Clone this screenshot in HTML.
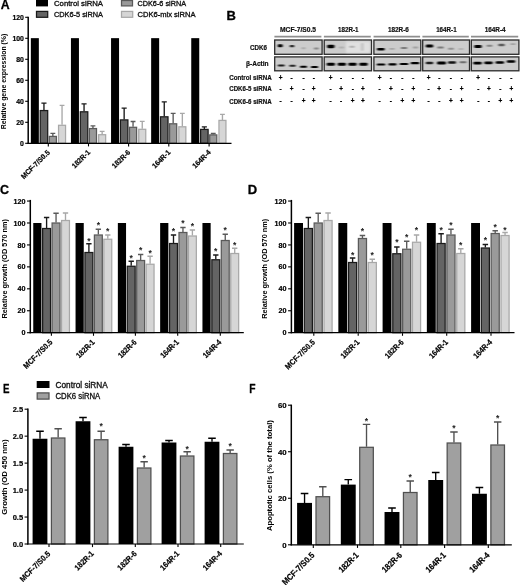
<!DOCTYPE html><html><head><meta charset="utf-8"><title>Figure</title><style>html,body{margin:0;padding:0;background:#fff}svg{display:block}</style></head><body>
<svg width="520" height="585" viewBox="0 0 520 585">
<defs><filter id="b1" x="-30%" y="-80%" width="160%" height="260%"><feGaussianBlur stdDeviation="0.8 0.6"/></filter><filter id="b2" x="-30%" y="-80%" width="160%" height="260%"><feGaussianBlur stdDeviation="1.2 0.8"/></filter></defs>
<rect width="520" height="585" fill="#fff"/>
<text x="0.7" y="9.4" font-size="13" font-weight="bold" textLength="8.9" lengthAdjust="spacingAndGlyphs" font-family="Liberation Sans, sans-serif" stroke="#000" stroke-width="0.3" stroke-linejoin="round">A</text>
<path d="M25.20 17.30H28.20" stroke="#000" stroke-width="1.1"/>
<text x="23.90" y="19.77" font-size="6.9" font-weight="bold" text-anchor="end" font-family="Liberation Sans, sans-serif" stroke="#000" stroke-width="0.2">120</text>
<path d="M25.20 38.30H28.20" stroke="#000" stroke-width="1.1"/>
<text x="23.90" y="40.77" font-size="6.9" font-weight="bold" text-anchor="end" font-family="Liberation Sans, sans-serif" stroke="#000" stroke-width="0.2">100</text>
<path d="M25.20 59.30H28.20" stroke="#000" stroke-width="1.1"/>
<text x="23.90" y="61.77" font-size="6.9" font-weight="bold" text-anchor="end" font-family="Liberation Sans, sans-serif" stroke="#000" stroke-width="0.2">80</text>
<path d="M25.20 80.30H28.20" stroke="#000" stroke-width="1.1"/>
<text x="23.90" y="82.77" font-size="6.9" font-weight="bold" text-anchor="end" font-family="Liberation Sans, sans-serif" stroke="#000" stroke-width="0.2">60</text>
<path d="M25.20 101.30H28.20" stroke="#000" stroke-width="1.1"/>
<text x="23.90" y="103.77" font-size="6.9" font-weight="bold" text-anchor="end" font-family="Liberation Sans, sans-serif" stroke="#000" stroke-width="0.2">40</text>
<path d="M25.20 122.30H28.20" stroke="#000" stroke-width="1.1"/>
<text x="23.90" y="124.77" font-size="6.9" font-weight="bold" text-anchor="end" font-family="Liberation Sans, sans-serif" stroke="#000" stroke-width="0.2">20</text>
<path d="M25.20 143.30H28.20" stroke="#000" stroke-width="1.1"/>
<text x="23.90" y="145.77" font-size="6.9" font-weight="bold" text-anchor="end" font-family="Liberation Sans, sans-serif" stroke="#000" stroke-width="0.2">0</text>
<path d="M48.30 143.30V146.40" stroke="#000" stroke-width="1.1"/>
<text transform="translate(50.40 152.90) rotate(-45)" font-size="7.3" font-weight="bold" text-anchor="end" textLength="37.5" lengthAdjust="spacingAndGlyphs" font-family="Liberation Sans, sans-serif" stroke="#000" stroke-width="0.2">MCF-7/S0.5</text>
<path d="M88.50 143.30V146.40" stroke="#000" stroke-width="1.1"/>
<text transform="translate(90.60 152.90) rotate(-45)" font-size="7.3" font-weight="bold" text-anchor="end" textLength="22.5" lengthAdjust="spacingAndGlyphs" font-family="Liberation Sans, sans-serif" stroke="#000" stroke-width="0.2">182R-1</text>
<path d="M128.60 143.30V146.40" stroke="#000" stroke-width="1.1"/>
<text transform="translate(130.70 152.90) rotate(-45)" font-size="7.3" font-weight="bold" text-anchor="end" textLength="22.5" lengthAdjust="spacingAndGlyphs" font-family="Liberation Sans, sans-serif" stroke="#000" stroke-width="0.2">182R-6</text>
<path d="M168.80 143.30V146.40" stroke="#000" stroke-width="1.1"/>
<text transform="translate(170.90 152.90) rotate(-45)" font-size="7.3" font-weight="bold" text-anchor="end" textLength="22.5" lengthAdjust="spacingAndGlyphs" font-family="Liberation Sans, sans-serif" stroke="#000" stroke-width="0.2">164R-1</text>
<path d="M209.10 143.30V146.40" stroke="#000" stroke-width="1.1"/>
<text transform="translate(211.20 152.90) rotate(-45)" font-size="7.3" font-weight="bold" text-anchor="end" textLength="22.5" lengthAdjust="spacingAndGlyphs" font-family="Liberation Sans, sans-serif" stroke="#000" stroke-width="0.2">164R-4</text>
<text transform="translate(6.40 81.50) rotate(-90)" font-size="6.9" font-weight="bold" text-anchor="middle" textLength="95.5" lengthAdjust="spacingAndGlyphs" font-family="Liberation Sans, sans-serif">Relative gene expression (%)</text>
<rect x="30.85" y="38.15" width="8.00" height="105.15" fill="#000"/>
<rect x="40.20" y="110.55" width="7.50" height="32.75" fill="#646464" stroke="#1a1a1a" stroke-width="1.25"/>
<path d="M43.95 110.05V103.05M41.40 103.05H46.50" stroke="#1a1a1a" stroke-width="1.35" fill="none"/>
<rect x="49.30" y="136.40" width="7.10" height="6.90" fill="#9a9a9a" stroke="#5a5a5a" stroke-width="1.25"/>
<path d="M52.85 135.90V133.30M50.42 133.30H55.28" stroke="#5a5a5a" stroke-width="1.35" fill="none"/>
<rect x="58.55" y="125.30" width="7.00" height="18.00" fill="#d6d6d6" stroke="#a8a8a8" stroke-width="1.25"/>
<path d="M62.05 124.80V105.30M59.65 105.30H64.45" stroke="#a8a8a8" stroke-width="1.35" fill="none"/>
<rect x="70.95" y="38.15" width="8.00" height="105.15" fill="#000"/>
<rect x="80.30" y="111.80" width="7.50" height="31.50" fill="#646464" stroke="#1a1a1a" stroke-width="1.25"/>
<path d="M84.05 111.30V103.80M81.50 103.80H86.60" stroke="#1a1a1a" stroke-width="1.35" fill="none"/>
<rect x="89.40" y="128.55" width="7.10" height="14.75" fill="#9a9a9a" stroke="#5a5a5a" stroke-width="1.25"/>
<path d="M92.95 128.05V125.90M90.52 125.90H95.38" stroke="#5a5a5a" stroke-width="1.35" fill="none"/>
<rect x="98.65" y="134.70" width="7.00" height="8.60" fill="#d6d6d6" stroke="#a8a8a8" stroke-width="1.25"/>
<path d="M102.15 134.20V131.30M99.75 131.30H104.55" stroke="#a8a8a8" stroke-width="1.35" fill="none"/>
<rect x="111.05" y="38.15" width="8.00" height="105.15" fill="#000"/>
<rect x="120.40" y="119.90" width="7.50" height="23.40" fill="#646464" stroke="#1a1a1a" stroke-width="1.25"/>
<path d="M124.15 119.40V108.05M121.60 108.05H126.70" stroke="#1a1a1a" stroke-width="1.35" fill="none"/>
<rect x="129.50" y="127.30" width="7.10" height="16.00" fill="#9a9a9a" stroke="#5a5a5a" stroke-width="1.25"/>
<path d="M133.05 126.80V121.50M130.62 121.50H135.48" stroke="#5a5a5a" stroke-width="1.35" fill="none"/>
<rect x="138.75" y="129.30" width="7.00" height="14.00" fill="#d6d6d6" stroke="#a8a8a8" stroke-width="1.25"/>
<path d="M142.25 128.80V121.30M139.85 121.30H144.65" stroke="#a8a8a8" stroke-width="1.35" fill="none"/>
<rect x="151.15" y="38.15" width="8.00" height="105.15" fill="#000"/>
<rect x="160.50" y="116.80" width="7.50" height="26.50" fill="#646464" stroke="#1a1a1a" stroke-width="1.25"/>
<path d="M164.25 116.30V101.80M161.70 101.80H166.80" stroke="#1a1a1a" stroke-width="1.35" fill="none"/>
<rect x="169.60" y="123.80" width="7.10" height="19.50" fill="#9a9a9a" stroke="#5a5a5a" stroke-width="1.25"/>
<path d="M173.15 123.30V113.30M170.72 113.30H175.58" stroke="#5a5a5a" stroke-width="1.35" fill="none"/>
<rect x="178.85" y="126.80" width="7.00" height="16.50" fill="#d6d6d6" stroke="#a8a8a8" stroke-width="1.25"/>
<path d="M182.35 126.30V113.30M179.95 113.30H184.75" stroke="#a8a8a8" stroke-width="1.35" fill="none"/>
<rect x="191.25" y="38.15" width="8.00" height="105.15" fill="#000"/>
<rect x="200.60" y="129.40" width="7.50" height="13.90" fill="#646464" stroke="#1a1a1a" stroke-width="1.25"/>
<path d="M204.35 128.90V126.80M201.80 126.80H206.90" stroke="#1a1a1a" stroke-width="1.35" fill="none"/>
<rect x="209.70" y="134.90" width="7.10" height="8.40" fill="#9a9a9a" stroke="#5a5a5a" stroke-width="1.25"/>
<path d="M213.25 134.40V133.50M210.82 133.50H215.68" stroke="#5a5a5a" stroke-width="1.35" fill="none"/>
<rect x="218.95" y="120.40" width="7.00" height="22.90" fill="#d6d6d6" stroke="#a8a8a8" stroke-width="1.25"/>
<path d="M222.45 119.90V114.40M220.05 114.40H224.85" stroke="#a8a8a8" stroke-width="1.35" fill="none"/>
<path d="M28.20 16.70V143.90" stroke="#000" stroke-width="1.5" fill="none"/><path d="M27.50 143.30H231.50" stroke="#000" stroke-width="1.2" fill="none"/>
<rect x="36" y="0" width="12" height="6.4" fill="#000"/>
<text x="54" y="5.9" font-size="8" textLength="49" lengthAdjust="spacingAndGlyphs" font-family="Liberation Sans, sans-serif" fill="#111" stroke="#111" stroke-width="0.35">Control siRNA</text>
<rect x="36.5" y="11.4" width="11.2" height="5.9" fill="#646464" stroke="#1a1a1a" stroke-width="1.25"/>
<text x="54" y="17.1" font-size="8" textLength="49" lengthAdjust="spacingAndGlyphs" font-family="Liberation Sans, sans-serif" fill="#111" stroke="#111" stroke-width="0.35">CDK6-5 siRNA</text>
<rect x="121.5" y="0.5" width="11" height="5.4" fill="#9a9a9a" stroke="#5a5a5a" stroke-width="1.25"/>
<text x="137.5" y="5.9" font-size="8" textLength="48.5" lengthAdjust="spacingAndGlyphs" font-family="Liberation Sans, sans-serif" fill="#111" stroke="#111" stroke-width="0.35">CDK6-6 siRNA</text>
<rect x="121.5" y="11.4" width="11.2" height="5.9" fill="#d6d6d6" stroke="#a8a8a8" stroke-width="1.25"/>
<text x="137.5" y="17.1" font-size="8" textLength="58" lengthAdjust="spacingAndGlyphs" font-family="Liberation Sans, sans-serif" fill="#111" stroke="#111" stroke-width="0.35">CDK6-mix siRNA</text>
<text x="226.5" y="19.6" font-size="13" font-weight="bold" font-family="Liberation Sans, sans-serif" stroke="#000" stroke-width="0.3" stroke-linejoin="round">B</text>
<text x="298" y="31.8" font-size="6.8" font-weight="bold" text-anchor="middle" textLength="36" lengthAdjust="spacingAndGlyphs" font-family="Liberation Sans, sans-serif" fill="#111" stroke="#111" stroke-width="0.2">MCF-7/S0.5</text>
<path d="M274.40 36.6H321.40" stroke="#8e8e8e" stroke-width="1.9"/>
<rect x="274.7" y="40" width="47.400000000000034" height="14.3" fill="#cccccc" stroke="#2a2a2a" stroke-width="1.3"/>
<rect x="274.7" y="56.9" width="47.400000000000034" height="13.9" fill="#cbcbcb" stroke="#2a2a2a" stroke-width="1.3"/>
<text x="348.3" y="31.8" font-size="6.8" font-weight="bold" text-anchor="middle" textLength="20.5" lengthAdjust="spacingAndGlyphs" font-family="Liberation Sans, sans-serif" fill="#111" stroke="#111" stroke-width="0.2">182R-1</text>
<path d="M323.90 36.6H370.80" stroke="#8e8e8e" stroke-width="1.9"/>
<rect x="324.2" y="40" width="47.30000000000001" height="14.3" fill="#cccccc" stroke="#2a2a2a" stroke-width="1.3"/>
<rect x="324.2" y="56.9" width="47.30000000000001" height="13.9" fill="#cbcbcb" stroke="#2a2a2a" stroke-width="1.3"/>
<text x="398.4" y="31.8" font-size="6.8" font-weight="bold" text-anchor="middle" textLength="21" lengthAdjust="spacingAndGlyphs" font-family="Liberation Sans, sans-serif" fill="#111" stroke="#111" stroke-width="0.2">182R-6</text>
<path d="M373.60 36.6H420.10" stroke="#8e8e8e" stroke-width="1.9"/>
<rect x="373.9" y="40" width="46.900000000000034" height="14.3" fill="#cccccc" stroke="#2a2a2a" stroke-width="1.3"/>
<rect x="373.9" y="56.9" width="46.900000000000034" height="13.9" fill="#cbcbcb" stroke="#2a2a2a" stroke-width="1.3"/>
<text x="446.4" y="31.8" font-size="6.8" font-weight="bold" text-anchor="middle" textLength="20.5" lengthAdjust="spacingAndGlyphs" font-family="Liberation Sans, sans-serif" fill="#111" stroke="#111" stroke-width="0.2">164R-1</text>
<path d="M422.40 36.6H468.80" stroke="#8e8e8e" stroke-width="1.9"/>
<rect x="422.7" y="40" width="46.80000000000001" height="14.3" fill="#cccccc" stroke="#2a2a2a" stroke-width="1.3"/>
<rect x="422.7" y="56.9" width="46.80000000000001" height="13.9" fill="#cbcbcb" stroke="#2a2a2a" stroke-width="1.3"/>
<text x="495.2" y="31.8" font-size="6.8" font-weight="bold" text-anchor="middle" textLength="21" lengthAdjust="spacingAndGlyphs" font-family="Liberation Sans, sans-serif" fill="#111" stroke="#111" stroke-width="0.2">164R-4</text>
<path d="M471.00 36.6H518.20" stroke="#8e8e8e" stroke-width="1.9"/>
<rect x="471.3" y="40" width="47.599999999999966" height="14.3" fill="#cccccc" stroke="#2a2a2a" stroke-width="1.3"/>
<rect x="471.3" y="56.9" width="47.599999999999966" height="13.9" fill="#cbcbcb" stroke="#2a2a2a" stroke-width="1.3"/>
<text x="266.9" y="49.8" font-size="7" font-weight="bold" text-anchor="end" textLength="17" lengthAdjust="spacingAndGlyphs" font-family="Liberation Sans, sans-serif" fill="#111" stroke="#111" stroke-width="0.2">CDK6</text>
<text x="268.6" y="66.3" font-size="7" font-weight="bold" text-anchor="end" textLength="22.6" lengthAdjust="spacingAndGlyphs" font-family="Liberation Sans, sans-serif" fill="#111" stroke="#111" stroke-width="0.2">β-Actin</text>
<text x="271.7" y="79.8" font-size="7" font-weight="bold" text-anchor="end" textLength="42.5" lengthAdjust="spacingAndGlyphs" font-family="Liberation Sans, sans-serif" fill="#111" stroke="#111" stroke-width="0.2">Control siRNA</text>
<text x="271.7" y="91.4" font-size="7" font-weight="bold" text-anchor="end" textLength="42.5" lengthAdjust="spacingAndGlyphs" font-family="Liberation Sans, sans-serif" fill="#111" stroke="#111" stroke-width="0.2">CDK6-5 siRNA</text>
<text x="271.7" y="103.5" font-size="7" font-weight="bold" text-anchor="end" textLength="42.5" lengthAdjust="spacingAndGlyphs" font-family="Liberation Sans, sans-serif" fill="#111" stroke="#111" stroke-width="0.2">CDK6-6 siRNA</text>
<text x="280.6" y="80.4" font-size="6.4" font-weight="bold" text-anchor="middle" font-family="Liberation Sans, sans-serif" stroke="#000" stroke-width="0.25">+</text>
<text x="291.5" y="80.30" font-size="6.4" font-weight="bold" text-anchor="middle" font-family="Liberation Sans, sans-serif" stroke="#000" stroke-width="0.25">-</text>
<text x="303.6" y="80.30" font-size="6.4" font-weight="bold" text-anchor="middle" font-family="Liberation Sans, sans-serif" stroke="#000" stroke-width="0.25">-</text>
<text x="313.7" y="80.30" font-size="6.4" font-weight="bold" text-anchor="middle" font-family="Liberation Sans, sans-serif" stroke="#000" stroke-width="0.25">-</text>
<text x="330.5" y="80.4" font-size="6.4" font-weight="bold" text-anchor="middle" font-family="Liberation Sans, sans-serif" stroke="#000" stroke-width="0.25">+</text>
<text x="341" y="80.30" font-size="6.4" font-weight="bold" text-anchor="middle" font-family="Liberation Sans, sans-serif" stroke="#000" stroke-width="0.25">-</text>
<text x="352.7" y="80.30" font-size="6.4" font-weight="bold" text-anchor="middle" font-family="Liberation Sans, sans-serif" stroke="#000" stroke-width="0.25">-</text>
<text x="362.8" y="80.30" font-size="6.4" font-weight="bold" text-anchor="middle" font-family="Liberation Sans, sans-serif" stroke="#000" stroke-width="0.25">-</text>
<text x="379.5" y="80.4" font-size="6.4" font-weight="bold" text-anchor="middle" font-family="Liberation Sans, sans-serif" stroke="#000" stroke-width="0.25">+</text>
<text x="390.8" y="80.30" font-size="6.4" font-weight="bold" text-anchor="middle" font-family="Liberation Sans, sans-serif" stroke="#000" stroke-width="0.25">-</text>
<text x="402.3" y="80.30" font-size="6.4" font-weight="bold" text-anchor="middle" font-family="Liberation Sans, sans-serif" stroke="#000" stroke-width="0.25">-</text>
<text x="413.3" y="80.30" font-size="6.4" font-weight="bold" text-anchor="middle" font-family="Liberation Sans, sans-serif" stroke="#000" stroke-width="0.25">-</text>
<text x="428.6" y="80.4" font-size="6.4" font-weight="bold" text-anchor="middle" font-family="Liberation Sans, sans-serif" stroke="#000" stroke-width="0.25">+</text>
<text x="439.2" y="80.30" font-size="6.4" font-weight="bold" text-anchor="middle" font-family="Liberation Sans, sans-serif" stroke="#000" stroke-width="0.25">-</text>
<text x="450.8" y="80.30" font-size="6.4" font-weight="bold" text-anchor="middle" font-family="Liberation Sans, sans-serif" stroke="#000" stroke-width="0.25">-</text>
<text x="461.7" y="80.30" font-size="6.4" font-weight="bold" text-anchor="middle" font-family="Liberation Sans, sans-serif" stroke="#000" stroke-width="0.25">-</text>
<text x="478.2" y="80.4" font-size="6.4" font-weight="bold" text-anchor="middle" font-family="Liberation Sans, sans-serif" stroke="#000" stroke-width="0.25">+</text>
<text x="488.8" y="80.30" font-size="6.4" font-weight="bold" text-anchor="middle" font-family="Liberation Sans, sans-serif" stroke="#000" stroke-width="0.25">-</text>
<text x="500.4" y="80.30" font-size="6.4" font-weight="bold" text-anchor="middle" font-family="Liberation Sans, sans-serif" stroke="#000" stroke-width="0.25">-</text>
<text x="511.3" y="80.30" font-size="6.4" font-weight="bold" text-anchor="middle" font-family="Liberation Sans, sans-serif" stroke="#000" stroke-width="0.25">-</text>
<text x="280.6" y="90.80" font-size="6.4" font-weight="bold" text-anchor="middle" font-family="Liberation Sans, sans-serif" stroke="#000" stroke-width="0.25">-</text>
<text x="291.5" y="90.9" font-size="6.4" font-weight="bold" text-anchor="middle" font-family="Liberation Sans, sans-serif" stroke="#000" stroke-width="0.25">+</text>
<text x="303.6" y="90.80" font-size="6.4" font-weight="bold" text-anchor="middle" font-family="Liberation Sans, sans-serif" stroke="#000" stroke-width="0.25">-</text>
<text x="313.7" y="90.9" font-size="6.4" font-weight="bold" text-anchor="middle" font-family="Liberation Sans, sans-serif" stroke="#000" stroke-width="0.25">+</text>
<text x="330.5" y="90.80" font-size="6.4" font-weight="bold" text-anchor="middle" font-family="Liberation Sans, sans-serif" stroke="#000" stroke-width="0.25">-</text>
<text x="341" y="90.9" font-size="6.4" font-weight="bold" text-anchor="middle" font-family="Liberation Sans, sans-serif" stroke="#000" stroke-width="0.25">+</text>
<text x="352.7" y="90.80" font-size="6.4" font-weight="bold" text-anchor="middle" font-family="Liberation Sans, sans-serif" stroke="#000" stroke-width="0.25">-</text>
<text x="362.8" y="90.9" font-size="6.4" font-weight="bold" text-anchor="middle" font-family="Liberation Sans, sans-serif" stroke="#000" stroke-width="0.25">+</text>
<text x="379.5" y="90.80" font-size="6.4" font-weight="bold" text-anchor="middle" font-family="Liberation Sans, sans-serif" stroke="#000" stroke-width="0.25">-</text>
<text x="390.8" y="90.9" font-size="6.4" font-weight="bold" text-anchor="middle" font-family="Liberation Sans, sans-serif" stroke="#000" stroke-width="0.25">+</text>
<text x="402.3" y="90.80" font-size="6.4" font-weight="bold" text-anchor="middle" font-family="Liberation Sans, sans-serif" stroke="#000" stroke-width="0.25">-</text>
<text x="413.3" y="90.9" font-size="6.4" font-weight="bold" text-anchor="middle" font-family="Liberation Sans, sans-serif" stroke="#000" stroke-width="0.25">+</text>
<text x="428.6" y="90.80" font-size="6.4" font-weight="bold" text-anchor="middle" font-family="Liberation Sans, sans-serif" stroke="#000" stroke-width="0.25">-</text>
<text x="439.2" y="90.9" font-size="6.4" font-weight="bold" text-anchor="middle" font-family="Liberation Sans, sans-serif" stroke="#000" stroke-width="0.25">+</text>
<text x="450.8" y="90.80" font-size="6.4" font-weight="bold" text-anchor="middle" font-family="Liberation Sans, sans-serif" stroke="#000" stroke-width="0.25">-</text>
<text x="461.7" y="90.9" font-size="6.4" font-weight="bold" text-anchor="middle" font-family="Liberation Sans, sans-serif" stroke="#000" stroke-width="0.25">+</text>
<text x="478.2" y="90.80" font-size="6.4" font-weight="bold" text-anchor="middle" font-family="Liberation Sans, sans-serif" stroke="#000" stroke-width="0.25">-</text>
<text x="488.8" y="90.9" font-size="6.4" font-weight="bold" text-anchor="middle" font-family="Liberation Sans, sans-serif" stroke="#000" stroke-width="0.25">+</text>
<text x="500.4" y="90.80" font-size="6.4" font-weight="bold" text-anchor="middle" font-family="Liberation Sans, sans-serif" stroke="#000" stroke-width="0.25">-</text>
<text x="511.3" y="90.9" font-size="6.4" font-weight="bold" text-anchor="middle" font-family="Liberation Sans, sans-serif" stroke="#000" stroke-width="0.25">+</text>
<text x="280.6" y="102.90" font-size="6.4" font-weight="bold" text-anchor="middle" font-family="Liberation Sans, sans-serif" stroke="#000" stroke-width="0.25">-</text>
<text x="291.5" y="102.90" font-size="6.4" font-weight="bold" text-anchor="middle" font-family="Liberation Sans, sans-serif" stroke="#000" stroke-width="0.25">-</text>
<text x="303.6" y="103.0" font-size="6.4" font-weight="bold" text-anchor="middle" font-family="Liberation Sans, sans-serif" stroke="#000" stroke-width="0.25">+</text>
<text x="313.7" y="103.0" font-size="6.4" font-weight="bold" text-anchor="middle" font-family="Liberation Sans, sans-serif" stroke="#000" stroke-width="0.25">+</text>
<text x="330.5" y="102.90" font-size="6.4" font-weight="bold" text-anchor="middle" font-family="Liberation Sans, sans-serif" stroke="#000" stroke-width="0.25">-</text>
<text x="341" y="102.90" font-size="6.4" font-weight="bold" text-anchor="middle" font-family="Liberation Sans, sans-serif" stroke="#000" stroke-width="0.25">-</text>
<text x="352.7" y="103.0" font-size="6.4" font-weight="bold" text-anchor="middle" font-family="Liberation Sans, sans-serif" stroke="#000" stroke-width="0.25">+</text>
<text x="362.8" y="103.0" font-size="6.4" font-weight="bold" text-anchor="middle" font-family="Liberation Sans, sans-serif" stroke="#000" stroke-width="0.25">+</text>
<text x="379.5" y="102.90" font-size="6.4" font-weight="bold" text-anchor="middle" font-family="Liberation Sans, sans-serif" stroke="#000" stroke-width="0.25">-</text>
<text x="390.8" y="102.90" font-size="6.4" font-weight="bold" text-anchor="middle" font-family="Liberation Sans, sans-serif" stroke="#000" stroke-width="0.25">-</text>
<text x="402.3" y="103.0" font-size="6.4" font-weight="bold" text-anchor="middle" font-family="Liberation Sans, sans-serif" stroke="#000" stroke-width="0.25">+</text>
<text x="413.3" y="103.0" font-size="6.4" font-weight="bold" text-anchor="middle" font-family="Liberation Sans, sans-serif" stroke="#000" stroke-width="0.25">+</text>
<text x="428.6" y="102.90" font-size="6.4" font-weight="bold" text-anchor="middle" font-family="Liberation Sans, sans-serif" stroke="#000" stroke-width="0.25">-</text>
<text x="439.2" y="102.90" font-size="6.4" font-weight="bold" text-anchor="middle" font-family="Liberation Sans, sans-serif" stroke="#000" stroke-width="0.25">-</text>
<text x="450.8" y="103.0" font-size="6.4" font-weight="bold" text-anchor="middle" font-family="Liberation Sans, sans-serif" stroke="#000" stroke-width="0.25">+</text>
<text x="461.7" y="103.0" font-size="6.4" font-weight="bold" text-anchor="middle" font-family="Liberation Sans, sans-serif" stroke="#000" stroke-width="0.25">+</text>
<text x="478.2" y="102.90" font-size="6.4" font-weight="bold" text-anchor="middle" font-family="Liberation Sans, sans-serif" stroke="#000" stroke-width="0.25">-</text>
<text x="488.8" y="102.90" font-size="6.4" font-weight="bold" text-anchor="middle" font-family="Liberation Sans, sans-serif" stroke="#000" stroke-width="0.25">-</text>
<text x="500.4" y="103.0" font-size="6.4" font-weight="bold" text-anchor="middle" font-family="Liberation Sans, sans-serif" stroke="#000" stroke-width="0.25">+</text>
<text x="511.3" y="103.0" font-size="6.4" font-weight="bold" text-anchor="middle" font-family="Liberation Sans, sans-serif" stroke="#000" stroke-width="0.25">+</text>
<rect x="346" y="41.5" width="24" height="11.5" fill="#fff" opacity="0.4" filter="url(#b2)"/>
<rect x="277.70" y="44.35" width="5.00" height="2.90" rx="1.20" fill="#000" opacity="1" filter="url(#b1)"/>
<rect x="289.70" y="45.05" width="4.60" height="2.30" rx="0.96" fill="#000" opacity="0.8" filter="url(#b1)"/>
<rect x="301.30" y="47.25" width="4.40" height="1.90" rx="0.80" fill="#000" opacity="0.15" filter="url(#b1)"/>
<rect x="313.85" y="47.55" width="4.90" height="1.90" rx="0.80" fill="#000" opacity="0.32" filter="url(#b1)"/>
<rect x="327.10" y="44.85" width="7.40" height="3.30" rx="1.36" fill="#000" opacity="1" filter="url(#b1)"/>
<rect x="338.80" y="46.55" width="5.40" height="1.90" rx="0.80" fill="#000" opacity="0.13" filter="url(#b1)"/>
<rect x="349.30" y="45.85" width="5.40" height="1.90" rx="0.80" fill="#000" opacity="0.2" filter="url(#b1)"/>
<rect x="360.85" y="43.05" width="2.90" height="7.90" rx="1.40" fill="#000" opacity="0.12" filter="url(#b1)"/>
<rect x="377.00" y="48.00" width="7.60" height="2.40" rx="1.00" fill="#000" opacity="1" filter="url(#b1)"/>
<rect x="389.30" y="47.95" width="5.40" height="1.70" rx="0.72" fill="#000" opacity="0.18" filter="url(#b1)"/>
<rect x="400.80" y="47.05" width="6.40" height="1.90" rx="0.80" fill="#000" opacity="0.38" filter="url(#b1)"/>
<rect x="412.80" y="46.55" width="5.40" height="1.90" rx="0.80" fill="#000" opacity="0.2" filter="url(#b1)"/>
<rect x="425.80" y="44.55" width="7.40" height="2.90" rx="1.20" fill="#000" opacity="1" filter="url(#b1)"/>
<rect x="437.30" y="46.45" width="6.40" height="2.10" rx="0.88" fill="#000" opacity="0.4" filter="url(#b1)"/>
<rect x="448.05" y="47.85" width="5.90" height="1.90" rx="0.80" fill="#000" opacity="0.28" filter="url(#b1)"/>
<rect x="458.30" y="48.15" width="5.40" height="1.70" rx="0.72" fill="#000" opacity="0.15" filter="url(#b1)"/>
<rect x="474.30" y="45.05" width="7.40" height="2.90" rx="1.20" fill="#000" opacity="1" filter="url(#b1)"/>
<rect x="486.55" y="44.85" width="5.90" height="1.90" rx="0.80" fill="#000" opacity="0.35" filter="url(#b1)"/>
<rect x="498.30" y="43.85" width="6.40" height="2.30" rx="0.96" fill="#000" opacity="0.55" filter="url(#b1)"/>
<rect x="510.30" y="43.35" width="5.40" height="1.70" rx="0.72" fill="#000" opacity="0.2" filter="url(#b1)"/>
<rect x="277.75" y="64.55" width="6.90" height="1.90" rx="0.80" fill="#000" opacity="0.85" filter="url(#b1)"/>
<rect x="289.30" y="64.85" width="6.40" height="1.90" rx="0.80" fill="#000" opacity="0.8" filter="url(#b1)"/>
<rect x="300.05" y="65.75" width="6.90" height="2.10" rx="0.88" fill="#000" opacity="1" filter="url(#b1)"/>
<rect x="311.05" y="65.95" width="6.90" height="2.10" rx="0.88" fill="#000" opacity="1" filter="url(#b1)"/>
<rect x="326.70" y="62.75" width="8.20" height="2.90" rx="1.20" fill="#000" opacity="1" filter="url(#b1)"/>
<rect x="337.70" y="62.85" width="8.20" height="2.90" rx="1.20" fill="#000" opacity="1" filter="url(#b1)"/>
<rect x="348.40" y="62.85" width="8.20" height="2.90" rx="1.20" fill="#000" opacity="1" filter="url(#b1)"/>
<rect x="359.40" y="62.75" width="8.20" height="2.90" rx="1.20" fill="#000" opacity="1" filter="url(#b1)"/>
<rect x="376.80" y="63.40" width="8.40" height="2.20" rx="0.92" fill="#000" opacity="1" filter="url(#b1)"/>
<rect x="388.50" y="63.20" width="8.00" height="2.20" rx="0.92" fill="#000" opacity="1" filter="url(#b1)"/>
<rect x="399.80" y="62.90" width="8.40" height="2.20" rx="0.92" fill="#000" opacity="1" filter="url(#b1)"/>
<rect x="410.80" y="62.10" width="8.40" height="2.20" rx="0.92" fill="#000" opacity="1" filter="url(#b1)"/>
<rect x="425.80" y="61.85" width="7.40" height="2.30" rx="0.96" fill="#000" opacity="0.85" filter="url(#b1)"/>
<rect x="437.05" y="61.40" width="8.90" height="3.20" rx="1.32" fill="#000" opacity="1" filter="url(#b1)"/>
<rect x="448.05" y="61.35" width="7.90" height="2.30" rx="0.96" fill="#000" opacity="0.9" filter="url(#b1)"/>
<rect x="459.55" y="61.25" width="6.90" height="1.90" rx="0.80" fill="#000" opacity="0.45" filter="url(#b1)"/>
<rect x="473.30" y="61.80" width="8.40" height="2.80" rx="1.16" fill="#000" opacity="1" filter="url(#b1)"/>
<rect x="484.30" y="61.40" width="8.40" height="2.80" rx="1.16" fill="#000" opacity="1" filter="url(#b1)"/>
<rect x="495.60" y="61.20" width="8.40" height="2.60" rx="1.08" fill="#000" opacity="1" filter="url(#b1)"/>
<rect x="506.80" y="60.20" width="8.40" height="2.60" rx="1.08" fill="#000" opacity="1" filter="url(#b1)"/>
<text x="0" y="194.1" font-size="13" font-weight="bold" textLength="9" lengthAdjust="spacingAndGlyphs" font-family="Liberation Sans, sans-serif" stroke="#000" stroke-width="0.3" stroke-linejoin="round">C</text>
<path d="M27.00 201.05H30.30" stroke="#000" stroke-width="1.1"/>
<text x="25.50" y="203.63" font-size="7.2" font-weight="bold" text-anchor="end" font-family="Liberation Sans, sans-serif" stroke="#000" stroke-width="0.2">120</text>
<path d="M27.00 222.99H30.30" stroke="#000" stroke-width="1.1"/>
<text x="25.50" y="225.57" font-size="7.2" font-weight="bold" text-anchor="end" font-family="Liberation Sans, sans-serif" stroke="#000" stroke-width="0.2">100</text>
<path d="M27.00 244.93H30.30" stroke="#000" stroke-width="1.1"/>
<text x="25.50" y="247.51" font-size="7.2" font-weight="bold" text-anchor="end" font-family="Liberation Sans, sans-serif" stroke="#000" stroke-width="0.2">80</text>
<path d="M27.00 266.87H30.30" stroke="#000" stroke-width="1.1"/>
<text x="25.50" y="269.45" font-size="7.2" font-weight="bold" text-anchor="end" font-family="Liberation Sans, sans-serif" stroke="#000" stroke-width="0.2">60</text>
<path d="M27.00 288.81H30.30" stroke="#000" stroke-width="1.1"/>
<text x="25.50" y="291.39" font-size="7.2" font-weight="bold" text-anchor="end" font-family="Liberation Sans, sans-serif" stroke="#000" stroke-width="0.2">40</text>
<path d="M27.00 310.75H30.30" stroke="#000" stroke-width="1.1"/>
<text x="25.50" y="313.33" font-size="7.2" font-weight="bold" text-anchor="end" font-family="Liberation Sans, sans-serif" stroke="#000" stroke-width="0.2">20</text>
<path d="M27.00 332.70H30.30" stroke="#000" stroke-width="1.1"/>
<text x="25.50" y="335.28" font-size="7.2" font-weight="bold" text-anchor="end" font-family="Liberation Sans, sans-serif" stroke="#000" stroke-width="0.2">0</text>
<path d="M51.40 332.70V335.80" stroke="#000" stroke-width="1.1"/>
<text transform="translate(53.10 342.70) rotate(-45)" font-size="8" font-weight="bold" text-anchor="end" textLength="37.5" lengthAdjust="spacingAndGlyphs" font-family="Liberation Sans, sans-serif" stroke="#000" stroke-width="0.2">MCF-7/S0.5</text>
<path d="M93.50 332.70V335.80" stroke="#000" stroke-width="1.1"/>
<text transform="translate(95.20 342.70) rotate(-45)" font-size="8" font-weight="bold" text-anchor="end" textLength="22.5" lengthAdjust="spacingAndGlyphs" font-family="Liberation Sans, sans-serif" stroke="#000" stroke-width="0.2">182R-1</text>
<path d="M135.40 332.70V335.80" stroke="#000" stroke-width="1.1"/>
<text transform="translate(137.10 342.70) rotate(-45)" font-size="8" font-weight="bold" text-anchor="end" textLength="22.5" lengthAdjust="spacingAndGlyphs" font-family="Liberation Sans, sans-serif" stroke="#000" stroke-width="0.2">182R-6</text>
<path d="M177.70 332.70V335.80" stroke="#000" stroke-width="1.1"/>
<text transform="translate(179.40 342.70) rotate(-45)" font-size="8" font-weight="bold" text-anchor="end" textLength="22.5" lengthAdjust="spacingAndGlyphs" font-family="Liberation Sans, sans-serif" stroke="#000" stroke-width="0.2">164R-1</text>
<path d="M220.30 332.70V335.80" stroke="#000" stroke-width="1.1"/>
<text transform="translate(222.00 342.70) rotate(-45)" font-size="8" font-weight="bold" text-anchor="end" textLength="22.5" lengthAdjust="spacingAndGlyphs" font-family="Liberation Sans, sans-serif" stroke="#000" stroke-width="0.2">164R-4</text>
<text transform="translate(7.00 268.80) rotate(-90)" font-size="7.2" font-weight="bold" text-anchor="middle" textLength="99.5" lengthAdjust="spacingAndGlyphs" font-family="Liberation Sans, sans-serif">Relative growth (OD 570 nm)</text>
<rect x="33.25" y="223.00" width="8.20" height="109.70" fill="#000"/>
<rect x="42.65" y="228.50" width="7.90" height="104.20" fill="#646464" stroke="#1a1a1a" stroke-width="1.25"/>
<path d="M46.60 228.00V217.50M43.93 217.50H49.27" stroke="#1a1a1a" stroke-width="1.35" fill="none"/>
<rect x="52.10" y="223.00" width="7.90" height="109.70" fill="#9a9a9a" stroke="#5a5a5a" stroke-width="1.25"/>
<path d="M56.05 222.50V213.25M53.38 213.25H58.72" stroke="#5a5a5a" stroke-width="1.35" fill="none"/>
<rect x="61.55" y="220.50" width="7.90" height="112.20" fill="#d6d6d6" stroke="#a8a8a8" stroke-width="1.25"/>
<path d="M65.50 220.00V213.00M62.83 213.00H68.17" stroke="#a8a8a8" stroke-width="1.35" fill="none"/>
<rect x="75.55" y="223.00" width="8.20" height="109.70" fill="#000"/>
<rect x="84.95" y="252.50" width="7.90" height="80.20" fill="#646464" stroke="#1a1a1a" stroke-width="1.25"/>
<path d="M88.90 252.00V243.75M86.23 243.75H91.57" stroke="#1a1a1a" stroke-width="1.35" fill="none"/>
<text x="88.90" y="243.80" font-size="8.6" font-weight="bold" text-anchor="middle" font-family="Liberation Sans, sans-serif" fill="#222">*</text>
<rect x="94.40" y="235.00" width="7.90" height="97.70" fill="#9a9a9a" stroke="#5a5a5a" stroke-width="1.25"/>
<path d="M98.35 234.50V229.25M95.68 229.25H101.02" stroke="#5a5a5a" stroke-width="1.35" fill="none"/>
<text x="98.35" y="228.30" font-size="8.6" font-weight="bold" text-anchor="middle" font-family="Liberation Sans, sans-serif" fill="#222">*</text>
<rect x="103.85" y="239.25" width="7.90" height="93.45" fill="#d6d6d6" stroke="#a8a8a8" stroke-width="1.25"/>
<path d="M107.80 238.75V235.00M105.13 235.00H110.47" stroke="#a8a8a8" stroke-width="1.35" fill="none"/>
<text x="107.80" y="233.80" font-size="8.6" font-weight="bold" text-anchor="middle" font-family="Liberation Sans, sans-serif" fill="#222">*</text>
<rect x="117.85" y="223.00" width="8.20" height="109.70" fill="#000"/>
<rect x="127.25" y="266.25" width="7.90" height="66.45" fill="#646464" stroke="#1a1a1a" stroke-width="1.25"/>
<path d="M131.20 265.75V261.25M128.53 261.25H133.87" stroke="#1a1a1a" stroke-width="1.35" fill="none"/>
<text x="131.20" y="261.30" font-size="8.6" font-weight="bold" text-anchor="middle" font-family="Liberation Sans, sans-serif" fill="#222">*</text>
<rect x="136.70" y="260.50" width="7.90" height="72.20" fill="#9a9a9a" stroke="#5a5a5a" stroke-width="1.25"/>
<path d="M140.65 260.00V254.50M137.98 254.50H143.32" stroke="#5a5a5a" stroke-width="1.35" fill="none"/>
<text x="140.65" y="253.30" font-size="8.6" font-weight="bold" text-anchor="middle" font-family="Liberation Sans, sans-serif" fill="#222">*</text>
<rect x="146.15" y="264.25" width="7.90" height="68.45" fill="#d6d6d6" stroke="#a8a8a8" stroke-width="1.25"/>
<path d="M150.10 263.75V256.25M147.43 256.25H152.77" stroke="#a8a8a8" stroke-width="1.35" fill="none"/>
<text x="150.10" y="256.30" font-size="8.6" font-weight="bold" text-anchor="middle" font-family="Liberation Sans, sans-serif" fill="#222">*</text>
<rect x="160.15" y="223.00" width="8.20" height="109.70" fill="#000"/>
<rect x="169.55" y="243.50" width="7.90" height="89.20" fill="#646464" stroke="#1a1a1a" stroke-width="1.25"/>
<path d="M173.50 243.00V235.00M170.83 235.00H176.17" stroke="#1a1a1a" stroke-width="1.35" fill="none"/>
<text x="173.50" y="233.80" font-size="8.6" font-weight="bold" text-anchor="middle" font-family="Liberation Sans, sans-serif" fill="#222">*</text>
<rect x="179.00" y="232.50" width="7.90" height="100.20" fill="#9a9a9a" stroke="#5a5a5a" stroke-width="1.25"/>
<path d="M182.95 232.00V227.50M180.28 227.50H185.62" stroke="#5a5a5a" stroke-width="1.35" fill="none"/>
<text x="182.95" y="226.30" font-size="8.6" font-weight="bold" text-anchor="middle" font-family="Liberation Sans, sans-serif" fill="#222">*</text>
<rect x="188.45" y="236.00" width="7.90" height="96.70" fill="#d6d6d6" stroke="#a8a8a8" stroke-width="1.25"/>
<path d="M192.40 235.50V230.00M189.73 230.00H195.07" stroke="#a8a8a8" stroke-width="1.35" fill="none"/>
<text x="192.40" y="228.80" font-size="8.6" font-weight="bold" text-anchor="middle" font-family="Liberation Sans, sans-serif" fill="#222">*</text>
<rect x="202.45" y="223.00" width="8.20" height="109.70" fill="#000"/>
<rect x="211.85" y="259.75" width="7.90" height="72.95" fill="#646464" stroke="#1a1a1a" stroke-width="1.25"/>
<path d="M215.80 259.25V255.00M213.13 255.00H218.47" stroke="#1a1a1a" stroke-width="1.35" fill="none"/>
<text x="215.80" y="253.80" font-size="8.6" font-weight="bold" text-anchor="middle" font-family="Liberation Sans, sans-serif" fill="#222">*</text>
<rect x="221.30" y="240.50" width="7.90" height="92.20" fill="#9a9a9a" stroke="#5a5a5a" stroke-width="1.25"/>
<path d="M225.25 240.00V234.25M222.58 234.25H227.92" stroke="#5a5a5a" stroke-width="1.35" fill="none"/>
<text x="225.25" y="233.30" font-size="8.6" font-weight="bold" text-anchor="middle" font-family="Liberation Sans, sans-serif" fill="#222">*</text>
<rect x="230.75" y="253.50" width="7.90" height="79.20" fill="#d6d6d6" stroke="#a8a8a8" stroke-width="1.25"/>
<path d="M234.70 253.00V248.25M232.03 248.25H237.37" stroke="#a8a8a8" stroke-width="1.35" fill="none"/>
<text x="234.70" y="248.05" font-size="8.6" font-weight="bold" text-anchor="middle" font-family="Liberation Sans, sans-serif" fill="#222">*</text>
<path d="M30.30 199.90V333.30" stroke="#000" stroke-width="1.5" fill="none"/><path d="M29.60 332.70H243.80" stroke="#000" stroke-width="1.2" fill="none"/>
<text x="247.8" y="194.2" font-size="13" font-weight="bold" font-family="Liberation Sans, sans-serif" stroke="#000" stroke-width="0.3" stroke-linejoin="round">D</text>
<path d="M288.10 201.05H291.40" stroke="#000" stroke-width="1.1"/>
<text x="286.60" y="203.63" font-size="7.2" font-weight="bold" text-anchor="end" font-family="Liberation Sans, sans-serif" stroke="#000" stroke-width="0.2">120</text>
<path d="M288.10 222.99H291.40" stroke="#000" stroke-width="1.1"/>
<text x="286.60" y="225.57" font-size="7.2" font-weight="bold" text-anchor="end" font-family="Liberation Sans, sans-serif" stroke="#000" stroke-width="0.2">100</text>
<path d="M288.10 244.93H291.40" stroke="#000" stroke-width="1.1"/>
<text x="286.60" y="247.51" font-size="7.2" font-weight="bold" text-anchor="end" font-family="Liberation Sans, sans-serif" stroke="#000" stroke-width="0.2">80</text>
<path d="M288.10 266.87H291.40" stroke="#000" stroke-width="1.1"/>
<text x="286.60" y="269.45" font-size="7.2" font-weight="bold" text-anchor="end" font-family="Liberation Sans, sans-serif" stroke="#000" stroke-width="0.2">60</text>
<path d="M288.10 288.81H291.40" stroke="#000" stroke-width="1.1"/>
<text x="286.60" y="291.39" font-size="7.2" font-weight="bold" text-anchor="end" font-family="Liberation Sans, sans-serif" stroke="#000" stroke-width="0.2">40</text>
<path d="M288.10 310.75H291.40" stroke="#000" stroke-width="1.1"/>
<text x="286.60" y="313.33" font-size="7.2" font-weight="bold" text-anchor="end" font-family="Liberation Sans, sans-serif" stroke="#000" stroke-width="0.2">20</text>
<path d="M288.10 332.70H291.40" stroke="#000" stroke-width="1.1"/>
<text x="286.60" y="335.28" font-size="7.2" font-weight="bold" text-anchor="end" font-family="Liberation Sans, sans-serif" stroke="#000" stroke-width="0.2">0</text>
<path d="M313.80 332.70V335.80" stroke="#000" stroke-width="1.1"/>
<text transform="translate(315.50 342.70) rotate(-45)" font-size="8" font-weight="bold" text-anchor="end" textLength="38.5" lengthAdjust="spacingAndGlyphs" font-family="Liberation Sans, sans-serif" stroke="#000" stroke-width="0.2">MCF-7/S0.5</text>
<path d="M358.20 332.70V335.80" stroke="#000" stroke-width="1.1"/>
<text transform="translate(359.90 342.70) rotate(-45)" font-size="8" font-weight="bold" text-anchor="end" textLength="23" lengthAdjust="spacingAndGlyphs" font-family="Liberation Sans, sans-serif" stroke="#000" stroke-width="0.2">182R-1</text>
<path d="M402.50 332.70V335.80" stroke="#000" stroke-width="1.1"/>
<text transform="translate(404.20 342.70) rotate(-45)" font-size="8" font-weight="bold" text-anchor="end" textLength="23" lengthAdjust="spacingAndGlyphs" font-family="Liberation Sans, sans-serif" stroke="#000" stroke-width="0.2">182R-6</text>
<path d="M446.70 332.70V335.80" stroke="#000" stroke-width="1.1"/>
<text transform="translate(448.40 342.70) rotate(-45)" font-size="8" font-weight="bold" text-anchor="end" textLength="23" lengthAdjust="spacingAndGlyphs" font-family="Liberation Sans, sans-serif" stroke="#000" stroke-width="0.2">164R-1</text>
<path d="M491.00 332.70V335.80" stroke="#000" stroke-width="1.1"/>
<text transform="translate(492.70 342.70) rotate(-45)" font-size="8" font-weight="bold" text-anchor="end" textLength="23" lengthAdjust="spacingAndGlyphs" font-family="Liberation Sans, sans-serif" stroke="#000" stroke-width="0.2">164R-4</text>
<text transform="translate(267.20 268.70) rotate(-90)" font-size="7.2" font-weight="bold" text-anchor="middle" textLength="100" lengthAdjust="spacingAndGlyphs" font-family="Liberation Sans, sans-serif">Relative growth (OD 570 nm)</text>
<rect x="294.10" y="223.00" width="8.90" height="109.70" fill="#000"/>
<rect x="304.30" y="228.50" width="8.10" height="104.20" fill="#646464" stroke="#1a1a1a" stroke-width="1.25"/>
<path d="M308.35 228.00V217.50M305.62 217.50H311.08" stroke="#1a1a1a" stroke-width="1.35" fill="none"/>
<rect x="314.15" y="223.00" width="8.10" height="109.70" fill="#9a9a9a" stroke="#5a5a5a" stroke-width="1.25"/>
<path d="M318.20 222.50V213.25M315.47 213.25H320.93" stroke="#5a5a5a" stroke-width="1.35" fill="none"/>
<rect x="324.00" y="220.50" width="8.10" height="112.20" fill="#d6d6d6" stroke="#a8a8a8" stroke-width="1.25"/>
<path d="M328.05 220.00V213.00M325.32 213.00H330.78" stroke="#a8a8a8" stroke-width="1.35" fill="none"/>
<rect x="338.35" y="223.00" width="8.90" height="109.70" fill="#000"/>
<rect x="348.55" y="262.50" width="8.10" height="70.20" fill="#646464" stroke="#1a1a1a" stroke-width="1.25"/>
<path d="M352.60 262.00V258.00M349.87 258.00H355.33" stroke="#1a1a1a" stroke-width="1.35" fill="none"/>
<text x="352.60" y="258.05" font-size="8.6" font-weight="bold" text-anchor="middle" font-family="Liberation Sans, sans-serif" fill="#222">*</text>
<rect x="358.40" y="238.50" width="8.10" height="94.20" fill="#9a9a9a" stroke="#5a5a5a" stroke-width="1.25"/>
<path d="M362.45 238.00V235.50M359.72 235.50H365.18" stroke="#5a5a5a" stroke-width="1.35" fill="none"/>
<text x="362.45" y="234.30" font-size="8.6" font-weight="bold" text-anchor="middle" font-family="Liberation Sans, sans-serif" fill="#222">*</text>
<rect x="368.25" y="262.50" width="8.10" height="70.20" fill="#d6d6d6" stroke="#a8a8a8" stroke-width="1.25"/>
<path d="M372.30 262.00V259.25M369.57 259.25H375.03" stroke="#a8a8a8" stroke-width="1.35" fill="none"/>
<text x="372.30" y="258.05" font-size="8.6" font-weight="bold" text-anchor="middle" font-family="Liberation Sans, sans-serif" fill="#222">*</text>
<rect x="382.60" y="223.00" width="8.90" height="109.70" fill="#000"/>
<rect x="392.80" y="253.75" width="8.10" height="78.95" fill="#646464" stroke="#1a1a1a" stroke-width="1.25"/>
<path d="M396.85 253.25V247.00M394.12 247.00H399.58" stroke="#1a1a1a" stroke-width="1.35" fill="none"/>
<text x="396.85" y="245.05" font-size="8.6" font-weight="bold" text-anchor="middle" font-family="Liberation Sans, sans-serif" fill="#222">*</text>
<rect x="402.65" y="249.25" width="8.10" height="83.45" fill="#9a9a9a" stroke="#5a5a5a" stroke-width="1.25"/>
<path d="M406.70 248.75V241.25M403.97 241.25H409.43" stroke="#5a5a5a" stroke-width="1.35" fill="none"/>
<text x="406.70" y="240.05" font-size="8.6" font-weight="bold" text-anchor="middle" font-family="Liberation Sans, sans-serif" fill="#222">*</text>
<rect x="412.50" y="242.25" width="8.10" height="90.45" fill="#d6d6d6" stroke="#a8a8a8" stroke-width="1.25"/>
<path d="M416.55 241.75V235.00M413.82 235.00H419.28" stroke="#a8a8a8" stroke-width="1.35" fill="none"/>
<text x="416.55" y="233.30" font-size="8.6" font-weight="bold" text-anchor="middle" font-family="Liberation Sans, sans-serif" fill="#222">*</text>
<rect x="426.85" y="223.00" width="8.90" height="109.70" fill="#000"/>
<rect x="437.05" y="243.50" width="8.10" height="89.20" fill="#646464" stroke="#1a1a1a" stroke-width="1.25"/>
<path d="M441.10 243.00V233.75M438.37 233.75H443.83" stroke="#1a1a1a" stroke-width="1.35" fill="none"/>
<text x="441.10" y="232.55" font-size="8.6" font-weight="bold" text-anchor="middle" font-family="Liberation Sans, sans-serif" fill="#222">*</text>
<rect x="446.90" y="235.00" width="8.10" height="97.70" fill="#9a9a9a" stroke="#5a5a5a" stroke-width="1.25"/>
<path d="M450.95 234.50V229.25M448.22 229.25H453.68" stroke="#5a5a5a" stroke-width="1.35" fill="none"/>
<text x="450.95" y="228.05" font-size="8.6" font-weight="bold" text-anchor="middle" font-family="Liberation Sans, sans-serif" fill="#222">*</text>
<rect x="456.75" y="253.50" width="8.10" height="79.20" fill="#d6d6d6" stroke="#a8a8a8" stroke-width="1.25"/>
<path d="M460.80 253.00V248.75M458.07 248.75H463.53" stroke="#a8a8a8" stroke-width="1.35" fill="none"/>
<text x="460.80" y="248.05" font-size="8.6" font-weight="bold" text-anchor="middle" font-family="Liberation Sans, sans-serif" fill="#222">*</text>
<rect x="471.10" y="223.00" width="8.90" height="109.70" fill="#000"/>
<rect x="481.30" y="248.00" width="8.10" height="84.70" fill="#646464" stroke="#1a1a1a" stroke-width="1.25"/>
<path d="M485.35 247.50V244.50M482.62 244.50H488.08" stroke="#1a1a1a" stroke-width="1.35" fill="none"/>
<text x="485.35" y="243.30" font-size="8.6" font-weight="bold" text-anchor="middle" font-family="Liberation Sans, sans-serif" fill="#222">*</text>
<rect x="491.15" y="233.50" width="8.10" height="99.20" fill="#9a9a9a" stroke="#5a5a5a" stroke-width="1.25"/>
<path d="M495.20 233.00V230.75M492.47 230.75H497.93" stroke="#5a5a5a" stroke-width="1.35" fill="none"/>
<text x="495.20" y="229.55" font-size="8.6" font-weight="bold" text-anchor="middle" font-family="Liberation Sans, sans-serif" fill="#222">*</text>
<rect x="501.00" y="235.50" width="8.10" height="97.20" fill="#d6d6d6" stroke="#a8a8a8" stroke-width="1.25"/>
<path d="M505.05 235.00V232.50M502.32 232.50H507.78" stroke="#a8a8a8" stroke-width="1.35" fill="none"/>
<text x="505.05" y="232.55" font-size="8.6" font-weight="bold" text-anchor="middle" font-family="Liberation Sans, sans-serif" fill="#222">*</text>
<path d="M291.40 199.90V333.30" stroke="#000" stroke-width="1.5" fill="none"/><path d="M290.70 332.70H514.50" stroke="#000" stroke-width="1.2" fill="none"/>
<text x="2.9" y="392.7" font-size="13" font-weight="bold" textLength="6.5" lengthAdjust="spacingAndGlyphs" font-family="Liberation Sans, sans-serif" stroke="#000" stroke-width="0.3" stroke-linejoin="round">E</text>
<path d="M24.60 409.20H27.90" stroke="#000" stroke-width="1.1"/>
<text x="23.10" y="411.88" font-size="7.5" font-weight="bold" text-anchor="end" font-family="Liberation Sans, sans-serif" stroke="#000" stroke-width="0.2">2.5</text>
<path d="M24.60 436.16H27.90" stroke="#000" stroke-width="1.1"/>
<text x="23.10" y="438.84" font-size="7.5" font-weight="bold" text-anchor="end" font-family="Liberation Sans, sans-serif" stroke="#000" stroke-width="0.2">2.0</text>
<path d="M24.60 463.12H27.90" stroke="#000" stroke-width="1.1"/>
<text x="23.10" y="465.81" font-size="7.5" font-weight="bold" text-anchor="end" font-family="Liberation Sans, sans-serif" stroke="#000" stroke-width="0.2">1.5</text>
<path d="M24.60 490.08H27.90" stroke="#000" stroke-width="1.1"/>
<text x="23.10" y="492.76" font-size="7.5" font-weight="bold" text-anchor="end" font-family="Liberation Sans, sans-serif" stroke="#000" stroke-width="0.2">1.0</text>
<path d="M24.60 517.04H27.90" stroke="#000" stroke-width="1.1"/>
<text x="23.10" y="519.72" font-size="7.5" font-weight="bold" text-anchor="end" font-family="Liberation Sans, sans-serif" stroke="#000" stroke-width="0.2">0.5</text>
<path d="M24.60 544.00H27.90" stroke="#000" stroke-width="1.1"/>
<text x="23.10" y="546.68" font-size="7.5" font-weight="bold" text-anchor="end" font-family="Liberation Sans, sans-serif" stroke="#000" stroke-width="0.2">0.0</text>
<path d="M49.00 544.00V547.10" stroke="#000" stroke-width="1.1"/>
<text transform="translate(50.90 554.30) rotate(-45)" font-size="8" font-weight="bold" text-anchor="end" textLength="39.5" lengthAdjust="spacingAndGlyphs" font-family="Liberation Sans, sans-serif" stroke="#000" stroke-width="0.2">MCF-7/S0.5</text>
<path d="M92.50 544.00V547.10" stroke="#000" stroke-width="1.1"/>
<text transform="translate(94.40 554.30) rotate(-45)" font-size="8" font-weight="bold" text-anchor="end" textLength="23.5" lengthAdjust="spacingAndGlyphs" font-family="Liberation Sans, sans-serif" stroke="#000" stroke-width="0.2">182R-1</text>
<path d="M135.30 544.00V547.10" stroke="#000" stroke-width="1.1"/>
<text transform="translate(137.20 554.30) rotate(-45)" font-size="8" font-weight="bold" text-anchor="end" textLength="23.5" lengthAdjust="spacingAndGlyphs" font-family="Liberation Sans, sans-serif" stroke="#000" stroke-width="0.2">182R-6</text>
<path d="M178.00 544.00V547.10" stroke="#000" stroke-width="1.1"/>
<text transform="translate(179.90 554.30) rotate(-45)" font-size="8" font-weight="bold" text-anchor="end" textLength="23.5" lengthAdjust="spacingAndGlyphs" font-family="Liberation Sans, sans-serif" stroke="#000" stroke-width="0.2">164R-1</text>
<path d="M220.70 544.00V547.10" stroke="#000" stroke-width="1.1"/>
<text transform="translate(222.60 554.30) rotate(-45)" font-size="8" font-weight="bold" text-anchor="end" textLength="23.5" lengthAdjust="spacingAndGlyphs" font-family="Liberation Sans, sans-serif" stroke="#000" stroke-width="0.2">164R-4</text>
<text transform="translate(6.50 477.10) rotate(-90)" font-size="7.2" font-weight="bold" text-anchor="middle" textLength="75.3" lengthAdjust="spacingAndGlyphs" font-family="Liberation Sans, sans-serif">Growth (OD 450 nm)</text>
<rect x="32.60" y="438.75" width="14.80" height="105.25" fill="#000"/>
<path d="M40.00 438.75V431.25M36.23 431.25H43.77" stroke="#000" stroke-width="1.35" fill="none"/>
<rect x="51.40" y="438.00" width="13.50" height="106.00" fill="#a0a0a0" stroke="#505050" stroke-width="1.25"/>
<path d="M58.15 437.50V428.75M54.45 428.75H61.85" stroke="#505050" stroke-width="1.35" fill="none"/>
<rect x="75.60" y="421.25" width="14.80" height="122.75" fill="#000"/>
<path d="M83.00 421.25V417.50M79.23 417.50H86.77" stroke="#000" stroke-width="1.35" fill="none"/>
<rect x="94.40" y="439.75" width="13.50" height="104.25" fill="#a0a0a0" stroke="#505050" stroke-width="1.25"/>
<path d="M101.15 439.25V431.25M97.45 431.25H104.85" stroke="#505050" stroke-width="1.35" fill="none"/>
<text x="101.15" y="428.90" font-size="8.6" font-weight="bold" text-anchor="middle" font-family="Liberation Sans, sans-serif" fill="#222">*</text>
<rect x="118.60" y="446.75" width="14.80" height="97.25" fill="#000"/>
<path d="M126.00 446.75V444.50M122.23 444.50H129.77" stroke="#000" stroke-width="1.35" fill="none"/>
<rect x="137.40" y="468.00" width="13.50" height="76.00" fill="#a0a0a0" stroke="#505050" stroke-width="1.25"/>
<path d="M144.15 467.50V461.75M140.45 461.75H147.85" stroke="#505050" stroke-width="1.35" fill="none"/>
<text x="144.15" y="461.15" font-size="8.6" font-weight="bold" text-anchor="middle" font-family="Liberation Sans, sans-serif" fill="#222">*</text>
<rect x="161.60" y="442.50" width="14.80" height="101.50" fill="#000"/>
<path d="M169.00 442.50V440.50M165.23 440.50H172.77" stroke="#000" stroke-width="1.35" fill="none"/>
<rect x="180.40" y="456.00" width="13.50" height="88.00" fill="#a0a0a0" stroke="#505050" stroke-width="1.25"/>
<path d="M187.15 455.50V451.75M183.45 451.75H190.85" stroke="#505050" stroke-width="1.35" fill="none"/>
<text x="187.15" y="451.90" font-size="8.6" font-weight="bold" text-anchor="middle" font-family="Liberation Sans, sans-serif" fill="#222">*</text>
<rect x="204.60" y="441.75" width="14.80" height="102.25" fill="#000"/>
<path d="M212.00 441.75V438.25M208.23 438.25H215.77" stroke="#000" stroke-width="1.35" fill="none"/>
<rect x="223.40" y="453.50" width="13.50" height="90.50" fill="#a0a0a0" stroke="#505050" stroke-width="1.25"/>
<path d="M230.15 453.00V450.00M226.45 450.00H233.85" stroke="#505050" stroke-width="1.35" fill="none"/>
<text x="230.15" y="448.90" font-size="8.6" font-weight="bold" text-anchor="middle" font-family="Liberation Sans, sans-serif" fill="#222">*</text>
<rect x="36.7" y="381" width="12.8" height="7" fill="#000"/>
<text x="55.5" y="387.5" font-size="9" textLength="52.3" lengthAdjust="spacingAndGlyphs" font-family="Liberation Sans, sans-serif" fill="#111" stroke="#111" stroke-width="0.35">Control siRNA</text>
<rect x="37.2" y="392.9" width="11.8" height="6.2" fill="#a0a0a0" stroke="#505050" stroke-width="1.25"/>
<text x="55.5" y="399" font-size="9" textLength="44.8" lengthAdjust="spacingAndGlyphs" font-family="Liberation Sans, sans-serif" fill="#111" stroke="#111" stroke-width="0.35">CDK6 siRNA</text>
<path d="M27.90 408.60V544.60" stroke="#000" stroke-width="1.5" fill="none"/><path d="M27.20 544.00H243.80" stroke="#000" stroke-width="1.2" fill="none"/>
<text x="249.2" y="392.7" font-size="13" font-weight="bold" textLength="6.3" lengthAdjust="spacingAndGlyphs" font-family="Liberation Sans, sans-serif" stroke="#000" stroke-width="0.3" stroke-linejoin="round">F</text>
<path d="M288.00 405.20H291.30" stroke="#000" stroke-width="1.1"/>
<text x="286.70" y="407.99" font-size="7.8" font-weight="bold" text-anchor="end" font-family="Liberation Sans, sans-serif" stroke="#000" stroke-width="0.2">60</text>
<path d="M288.00 451.73H291.30" stroke="#000" stroke-width="1.1"/>
<text x="286.70" y="454.52" font-size="7.8" font-weight="bold" text-anchor="end" font-family="Liberation Sans, sans-serif" stroke="#000" stroke-width="0.2">40</text>
<path d="M288.00 498.26H291.30" stroke="#000" stroke-width="1.1"/>
<text x="286.70" y="501.05" font-size="7.8" font-weight="bold" text-anchor="end" font-family="Liberation Sans, sans-serif" stroke="#000" stroke-width="0.2">20</text>
<path d="M288.00 544.79H291.30" stroke="#000" stroke-width="1.1"/>
<text x="286.70" y="547.58" font-size="7.8" font-weight="bold" text-anchor="end" font-family="Liberation Sans, sans-serif" stroke="#000" stroke-width="0.2">0</text>
<path d="M313.30 544.80V547.90" stroke="#000" stroke-width="1.1"/>
<text transform="translate(315.10 555.80) rotate(-45)" font-size="8.6" font-weight="bold" text-anchor="end" textLength="42" lengthAdjust="spacingAndGlyphs" font-family="Liberation Sans, sans-serif" stroke="#000" stroke-width="0.2">MCF-7/S0.5</text>
<path d="M357.50 544.80V547.90" stroke="#000" stroke-width="1.1"/>
<text transform="translate(359.30 555.80) rotate(-45)" font-size="8.6" font-weight="bold" text-anchor="end" textLength="24.5" lengthAdjust="spacingAndGlyphs" font-family="Liberation Sans, sans-serif" stroke="#000" stroke-width="0.2">182R-1</text>
<path d="M400.80 544.80V547.90" stroke="#000" stroke-width="1.1"/>
<text transform="translate(402.60 555.80) rotate(-45)" font-size="8.6" font-weight="bold" text-anchor="end" textLength="24.5" lengthAdjust="spacingAndGlyphs" font-family="Liberation Sans, sans-serif" stroke="#000" stroke-width="0.2">182R-6</text>
<path d="M444.60 544.80V547.90" stroke="#000" stroke-width="1.1"/>
<text transform="translate(446.40 555.80) rotate(-45)" font-size="8.6" font-weight="bold" text-anchor="end" textLength="24.5" lengthAdjust="spacingAndGlyphs" font-family="Liberation Sans, sans-serif" stroke="#000" stroke-width="0.2">164R-1</text>
<path d="M488.30 544.80V547.90" stroke="#000" stroke-width="1.1"/>
<text transform="translate(490.10 555.80) rotate(-45)" font-size="8.6" font-weight="bold" text-anchor="end" textLength="24.5" lengthAdjust="spacingAndGlyphs" font-family="Liberation Sans, sans-serif" stroke="#000" stroke-width="0.2">164R-4</text>
<text transform="translate(272.00 475.60) rotate(-90)" font-size="7.5" font-weight="bold" text-anchor="middle" textLength="111" lengthAdjust="spacingAndGlyphs" font-family="Liberation Sans, sans-serif">Apoptotic cells (% of the total)</text>
<rect x="297.10" y="502.90" width="14.90" height="41.90" fill="#000"/>
<path d="M304.55 502.90V493.50M300.75 493.50H308.35" stroke="#000" stroke-width="1.35" fill="none"/>
<rect x="316.00" y="496.70" width="13.60" height="48.10" fill="#a0a0a0" stroke="#505050" stroke-width="1.25"/>
<path d="M322.80 496.20V486.70M319.08 486.70H326.52" stroke="#505050" stroke-width="1.35" fill="none"/>
<rect x="340.82" y="484.60" width="14.90" height="60.20" fill="#000"/>
<path d="M348.27 484.60V479.60M344.47 479.60H352.07" stroke="#000" stroke-width="1.35" fill="none"/>
<rect x="359.72" y="447.30" width="13.60" height="97.50" fill="#a0a0a0" stroke="#505050" stroke-width="1.25"/>
<path d="M366.52 446.80V424.40M362.80 424.40H370.24" stroke="#505050" stroke-width="1.35" fill="none"/>
<text x="366.52" y="424.20" font-size="8.6" font-weight="bold" text-anchor="middle" font-family="Liberation Sans, sans-serif" fill="#222">*</text>
<rect x="384.54" y="512.00" width="14.90" height="32.80" fill="#000"/>
<path d="M391.99 512.00V508.00M388.19 508.00H395.79" stroke="#000" stroke-width="1.35" fill="none"/>
<rect x="403.44" y="492.50" width="13.60" height="52.30" fill="#a0a0a0" stroke="#505050" stroke-width="1.25"/>
<path d="M410.24 492.00V481.00M406.52 481.00H413.96" stroke="#505050" stroke-width="1.35" fill="none"/>
<text x="410.24" y="480.15" font-size="8.6" font-weight="bold" text-anchor="middle" font-family="Liberation Sans, sans-serif" fill="#222">*</text>
<rect x="428.26" y="480.00" width="14.90" height="64.80" fill="#000"/>
<path d="M435.71 480.00V472.50M431.91 472.50H439.51" stroke="#000" stroke-width="1.35" fill="none"/>
<rect x="447.16" y="443.00" width="13.60" height="101.80" fill="#a0a0a0" stroke="#505050" stroke-width="1.25"/>
<path d="M453.96 442.50V432.00M450.24 432.00H457.68" stroke="#505050" stroke-width="1.35" fill="none"/>
<text x="453.96" y="431.15" font-size="8.6" font-weight="bold" text-anchor="middle" font-family="Liberation Sans, sans-serif" fill="#222">*</text>
<rect x="471.98" y="493.75" width="14.90" height="51.05" fill="#000"/>
<path d="M479.43 493.75V487.50M475.63 487.50H483.23" stroke="#000" stroke-width="1.35" fill="none"/>
<rect x="490.88" y="445.00" width="13.60" height="99.80" fill="#a0a0a0" stroke="#505050" stroke-width="1.25"/>
<path d="M497.68 444.50V422.00M493.96 422.00H501.40" stroke="#505050" stroke-width="1.35" fill="none"/>
<text x="497.68" y="421.40" font-size="8.6" font-weight="bold" text-anchor="middle" font-family="Liberation Sans, sans-serif" fill="#222">*</text>
<path d="M291.30 404.60V545.40" stroke="#000" stroke-width="1.5" fill="none"/><path d="M290.60 544.80H511.80" stroke="#000" stroke-width="1.2" fill="none"/>
</svg></body></html>
